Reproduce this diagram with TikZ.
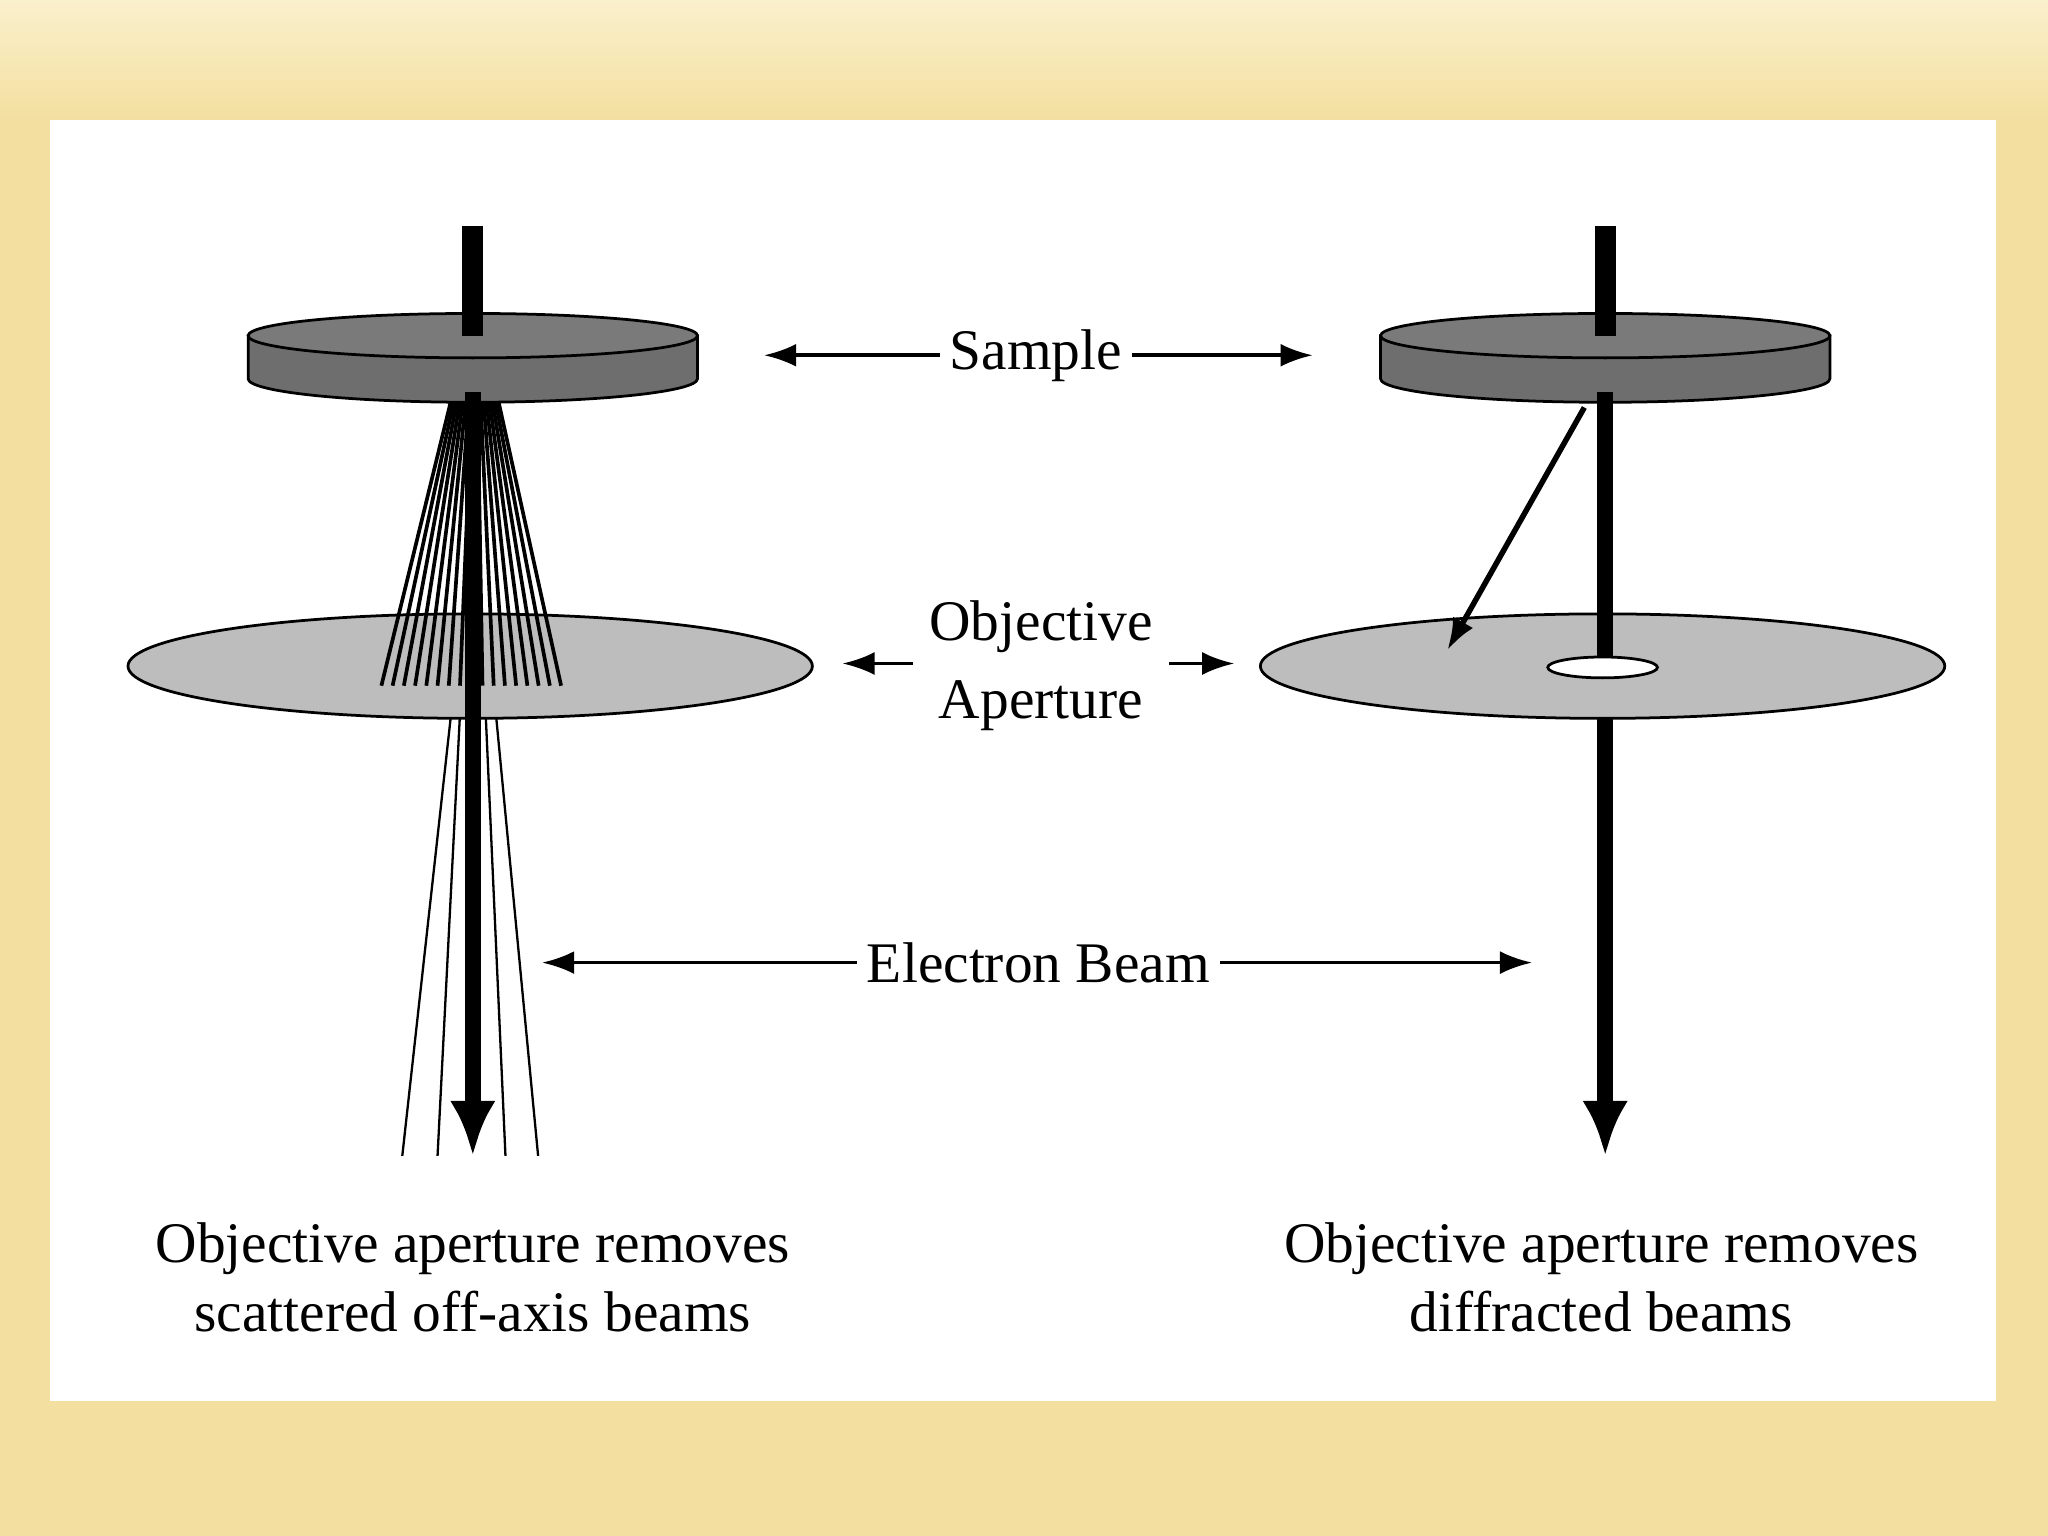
\documentclass[tikz,border=0pt]{standalone}
\usepackage{fontspec}
\setmainfont{Liberation Serif}
\usetikzlibrary{arrows.meta}
\definecolor{bgold}{HTML}{F3DFA0}
\definecolor{btop}{HTML}{FAF0CC}
\definecolor{disktop}{HTML}{7A7A7A}
\definecolor{diskside}{HTML}{6E6E6E}
\definecolor{apgray}{HTML}{BDBDBD}
\begin{document}
\begin{tikzpicture}[x=0.01cm,y=-0.01cm,
  lab/.style={font=\fontsize{12.5}{14}\selectfont,inner sep=2pt},
  captxt/.style={font=\fontsize{12.5}{15}\selectfont,align=center},
  arr/.style={-{Latex[length=7pt,width=5pt]},line width=0.8pt},
  beam/.style={line width=3.5pt},
  thinb/.style={line width=0.5pt}]
\fill[bgold] (0,0) rectangle (1568,1176);
\shade[top color=btop,bottom color=bgold] (0,0) rectangle (1568,90);
\fill[white] (38,92) rectangle (1528,1073);
% sample disks
\foreach \cx in {362,1229}{
  \fill[diskside,draw=black,line width=0.6pt] (\cx-172,257) -- (\cx-172,290) arc[start angle=180,end angle=360,x radius=172,y radius=-18] -- (\cx+172,257) -- cycle;
  \draw[fill=disktop,line width=0.6pt] (\cx,257) ellipse[x radius=172,y radius=17];
  \draw[line width=4.5pt] (\cx,173) -- (\cx,257);
}
% apertures
\draw[fill=apgray,line width=0.6pt] (360,510) ellipse[x radius=262,y radius=40];
\draw[fill=apgray,line width=0.6pt] (1227,510) ellipse[x radius=262,y radius=40];
\draw[fill=white,line width=0.6pt] (1227,511) ellipse[x radius=42,y radius=8];
% left scattered cone
\foreach \i in {0,...,16}{
  \draw[line width=0.8pt] (345+\i*2.3,308) -- (292+\i*8.6,525);
}
% left beams below aperture
\draw[thinb] (345,550) -- (308,885);
\draw[thinb] (352,550) -- (335,885);
\draw[thinb] (372,550) -- (387,885);
\draw[thinb] (380,550) -- (412,885);
\draw[beam,-{Latex[length=12pt,width=10pt]}] (362,300) -- (362,885);
% right beams
\draw[beam] (1229,300) -- (1229,503);
\draw[beam,-{Latex[length=12pt,width=10pt]}] (1229,550) -- (1229,885);
\draw[arr,line width=1.2pt] (1213,312) -- (1108,498);
% labels
\node[lab] (s) at (793,272) {Sample};
\coordinate (s1) at (585,272); \coordinate (s2) at (1005,272);
\draw[arr] (s.west) -- (s1); \draw[arr] (s.east) -- (s2);
\node[align=center,font=\fontsize{12.5}{17}\selectfont] (o) at (797,510) {Objective\\Aperture};
\coordinate (o1) at (645,508); \coordinate (o2) at (945,508);
\draw[arr] (o.west|-o1) -- (o1); \draw[arr] (o.east|-o2) -- (o2);
\node[lab] (e) at (795,737) {Electron Beam};
\coordinate (e1) at (415,737); \coordinate (e2) at (1173,737);
\draw[arr] (e.west) -- (e1); \draw[arr] (e.east) -- (e2);
\node[captxt] (c1) at (362,978) {Objective aperture removes\\scattered off-axis beams};
\node[captxt] (c2) at (1226,978) {Objective aperture removes\\diffracted beams};
\end{tikzpicture}
\end{document}
